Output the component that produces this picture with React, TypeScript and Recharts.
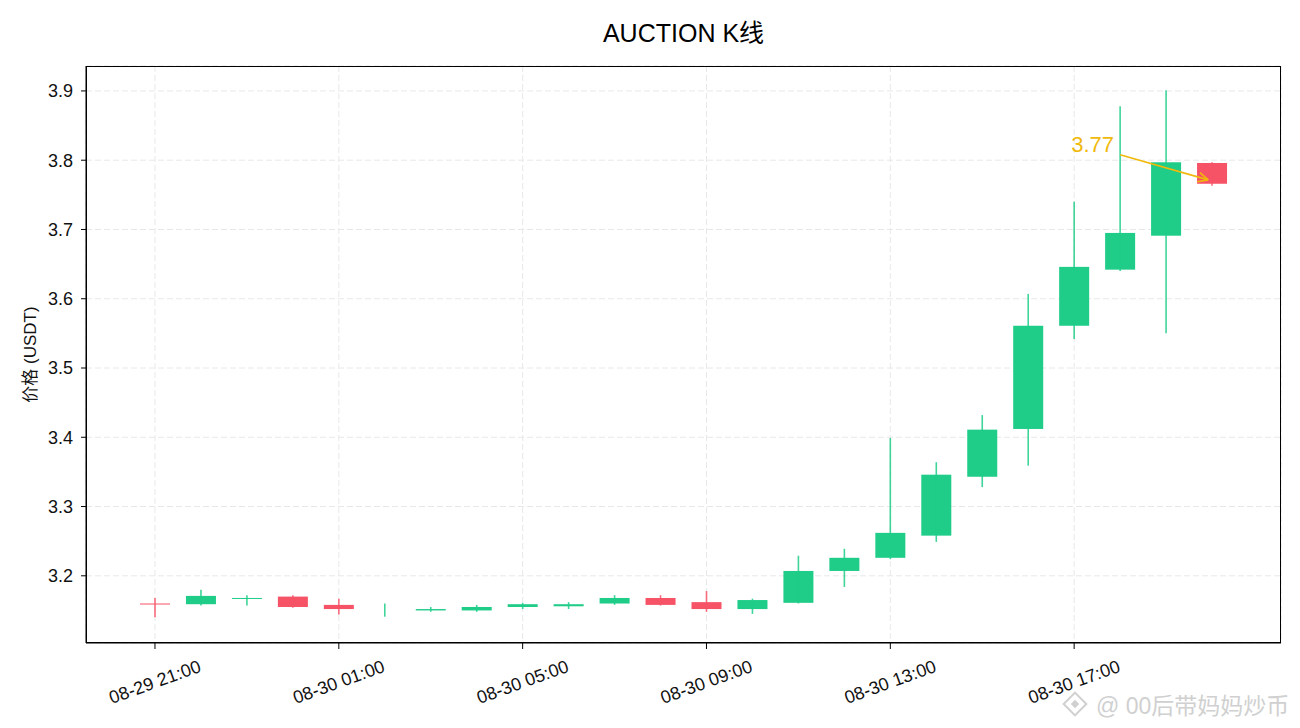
import {
  ComposedChart,
  Bar,
  XAxis,
  YAxis,
  CartesianGrid,
  ReferenceLine,
} from "recharts";

const times = [
  "08-29 21:00", "08-29 22:00", "08-29 23:00", "08-30 00:00",
  "08-30 01:00", "08-30 02:00", "08-30 03:00", "08-30 04:00",
  "08-30 05:00", "08-30 06:00", "08-30 07:00", "08-30 08:00",
  "08-30 09:00", "08-30 10:00", "08-30 11:00", "08-30 12:00",
  "08-30 13:00", "08-30 14:00", "08-30 15:00", "08-30 16:00",
  "08-30 17:00", "08-30 18:00", "08-30 19:00", "08-30 20:00",
];

const opens = [
  3.1600, 3.159, 3.1675, 3.170, 3.158, 3.1595, 3.150, 3.150,
  3.155, 3.156, 3.160, 3.168, 3.162, 3.152, 3.161, 3.207,
  3.226, 3.258, 3.343, 3.412, 3.561, 3.642, 3.691, 3.796,
];
const closes = [
  3.1598, 3.171, 3.1680, 3.155, 3.152, 3.1595, 3.152, 3.155,
  3.159, 3.159, 3.168, 3.158, 3.152, 3.165, 3.207, 3.226,
  3.262, 3.346, 3.411, 3.561, 3.646, 3.695, 3.797, 3.766,
];
const highs = [
  3.168, 3.180, 3.172, 3.172, 3.167, 3.160, 3.155, 3.158,
  3.161, 3.162, 3.172, 3.172, 3.178, 3.167, 3.229, 3.239,
  3.399, 3.364, 3.432, 3.607, 3.740, 3.878, 3.901, 3.797,
];
const lows = [
  3.140, 3.157, 3.157, 3.154, 3.144, 3.141, 3.148, 3.148,
  3.152, 3.152, 3.158, 3.157, 3.148, 3.145, 3.160, 3.184,
  3.224, 3.249, 3.328, 3.359, 3.542, 3.640, 3.550, 3.763,
];

const yTicks = [3.2, 3.3, 3.4, 3.5, 3.6, 3.7, 3.8, 3.9];
const yDomain = [3.103, 3.936];

// annotation: arrow from two candles back towards the last close
const lastIdx = times.length - 1;
const lastPrice = Number(closes[lastIdx].toFixed(2));
const arrowStartPrice = 3.808;

const UP = "#1fcc88";
const DOWN = "#f65366";
const GOLD = "#f0b90b";
const FONT = "'Liberation Sans', 'Noto Sans CJK SC', sans-serif";

const W = 1300;
const H = 728;
const M = { top: 66, right: 19, bottom: 0, left: 0 };
const Y_W = 86;
const X_H = 85;

const data = times.map((t, i) => ({
  t,
  open: opens[i],
  close: closes[i],
  high: highs[i],
  low: lows[i],
}));

function Candle(props: any) {
  const { x, y, width, height, payload } = props;
  const top = Math.min(y, y + height);
  const h = Math.abs(height);
  const { open, close, high, low } = payload;
  const color = close >= open ? UP : DOWN;
  const py = (v: number) => top + ((high - v) / (high - low)) * h;
  const cx = x + width / 2;
  const bTop = py(Math.max(open, close));
  const bBot = py(Math.min(open, close));
  const bh = open === close ? 0 : Math.max(bBot - bTop, 1);
  return (
    <g>
      {bh > 0 && (
        <rect x={x} y={bTop} width={width} height={bh} fill={color} />
      )}
      <line
        x1={cx}
        x2={cx}
        y1={top}
        y2={top + h}
        stroke={color}
        strokeWidth={1.6}
        strokeOpacity={0.85}
      />
    </g>
  );
}

function XTick(props: any) {
  const { x, y, payload } = props;
  const cy = y + 31;
  return (
    <text
      x={x}
      y={cy}
      textAnchor="middle"
      dominantBaseline="central"
      transform={`rotate(-20, ${x}, ${cy})`}
      fontSize={18}
      fontFamily={FONT}
      fill="#111"
    >
      {payload.value}
    </text>
  );
}

function Arrow(props: any) {
  const { x1, y1, x2, y2 } = props;
  const ang = Math.atan2(y2 - y1, x2 - x1);
  const L = 11;
  const a1 = ang + Math.PI - 0.45;
  const a2 = ang + Math.PI + 0.45;
  const ex = x2 - 4 * Math.cos(ang);
  const ey = y2 - 4 * Math.sin(ang);
  return (
    <g>
      <line x1={x1} y1={y1} x2={ex} y2={ey} stroke={GOLD} strokeWidth={1.6} />
      <line x1={ex} y1={ey} x2={ex + L * Math.cos(a1)} y2={ey + L * Math.sin(a1)} stroke={GOLD} strokeWidth={1.6} />
      <line x1={ex} y1={ey} x2={ex + L * Math.cos(a2)} y2={ey + L * Math.sin(a2)} stroke={GOLD} strokeWidth={1.6} />
      <text
        x={x1 - 6}
        y={y1 - 3}
        textAnchor="end"
        fontSize={22}
        fontFamily={FONT}
        fill={GOLD}
      >
        {lastPrice.toFixed(2)}
      </text>
    </g>
  );
}

export default function App() {
  return (
    <div
      style={{
        position: "absolute",
        left: 0,
        top: 0,
        width: W,
        height: H,
        background: "#fff",
        fontFamily: FONT,
      }}
    >
      <div
        style={{
          position: "absolute",
          left: Y_W,
          width: W - Y_W - M.right,
          top: 13,
          textAlign: "center",
          fontSize: 25,
          color: "#000",
        }}
      >
        AUCTION K线
      </div>
      <ComposedChart
        width={W}
        height={H}
        data={data}
        margin={M}
      >
        <CartesianGrid stroke="#e8e8e8" strokeDasharray="6 3" />
        <XAxis
          dataKey="t"
          interval={3}
          height={X_H}
          padding={{ left: 46, right: 46 }}
          stroke="#000"
          tickSize={6}
          tick={<XTick />}
        />
        <YAxis
          type="number"
          domain={yDomain}
          ticks={yTicks}
          allowDataOverflow
          width={Y_W}
          stroke="#000"
          tickSize={5}
          tickMargin={8}
          tickFormatter={(v: number) => v.toFixed(1)}
          tick={{ fontSize: 18, fill: "#111", fontFamily: FONT }}
          label={(p: any) => {
            const vb = p.viewBox;
            const cx = vb.x + 30;
            const cy = vb.y + vb.height / 2;
            return (
              <text
                x={cx}
                y={cy}
                textAnchor="middle"
                dominantBaseline="central"
                transform={`rotate(-90, ${cx}, ${cy})`}
                fontSize={17}
                fontFamily={FONT}
                fill="#111"
              >
                价格 (USDT)
              </text>
            );
          }}
        />
        <Bar
          dataKey={(d: any) => [d.low, d.high]}
          barSize={30}
          shape={<Candle />}
          isAnimationActive={false}
        />
        <ReferenceLine
          segment={[
            { x: times[lastIdx - 2], y: arrowStartPrice },
            { x: times[lastIdx], y: lastPrice },
          ]}
          shape={<Arrow />}
          ifOverflow="visible"
        />
      </ComposedChart>
      {/* axes frame */}
      <div
        style={{
          position: "absolute",
          left: Y_W,
          top: M.top,
          width: W - Y_W - M.right,
          height: H - M.top - X_H,
          boxSizing: "border-box",
          border: "1px solid #000",
          pointerEvents: "none",
        }}
      />
      <div
        style={{
          position: "absolute",
          left: 1060,
          top: 687,
          display: "flex",
          alignItems: "center",
          gap: 6,
          color: "#d0d0d0",
          fontSize: 23,
          fontFamily: FONT,
        }}
      >
        <svg width={30} height={30} viewBox="0 0 30 30">
          <rect
            x={7}
            y={7}
            width={16}
            height={16}
            transform="rotate(45 15 15)"
            fill="none"
            stroke="#d0d0d0"
            strokeWidth={2}
          />
          <rect x={12} y={12} width={6} height={6} transform="rotate(45 15 15)" fill="#d0d0d0" />
        </svg>
        <span>@ 00后带妈妈炒币</span>
      </div>
    </div>
  );
}
